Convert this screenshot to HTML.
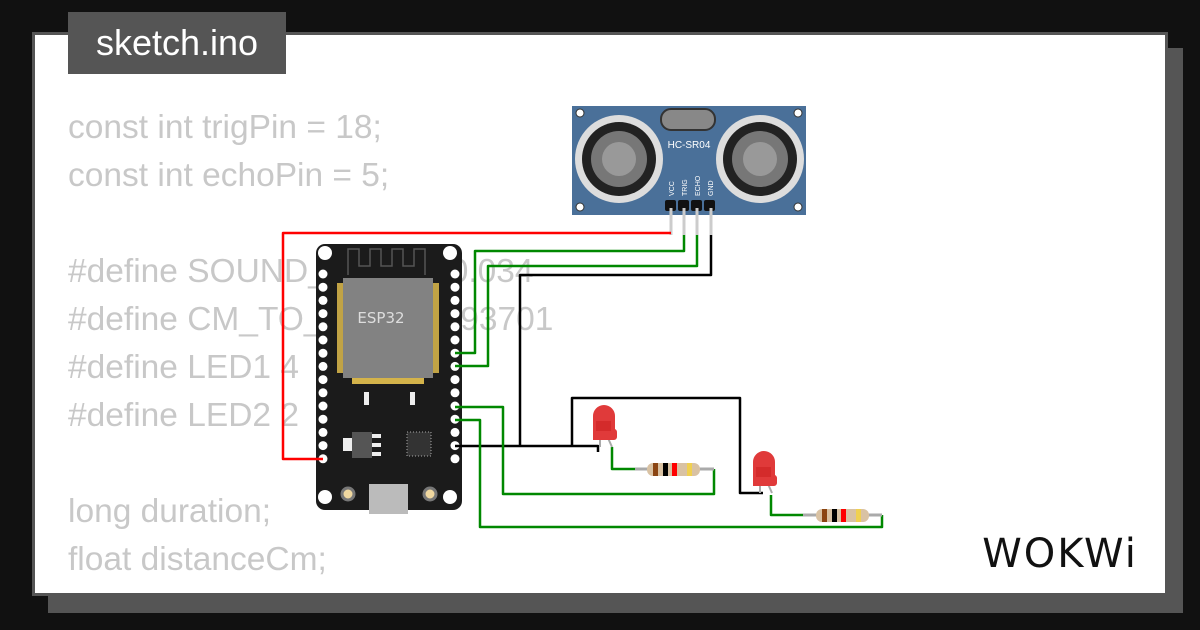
<!DOCTYPE html>
<html><head><meta charset="utf-8"><style>
html,body{margin:0;padding:0;background:#111;width:1200px;height:630px;overflow:hidden}
.shadow{position:absolute;left:48px;top:48px;width:1135px;height:565px;background:#555}
.card{position:absolute;left:32px;top:32px;width:1130px;height:558px;background:#fff;border:3px solid #555;overflow:hidden}
.code{position:absolute;left:33px;top:69px;font-family:"Liberation Sans",sans-serif;font-size:33.5px;line-height:48px;color:#c8c8c8;white-space:pre}
.label{position:absolute;left:68px;top:12px;width:218px;height:62px;background:#555;color:#fff;font-family:"Liberation Sans",sans-serif;font-size:36px;line-height:62px;text-align:center}
svg{position:absolute;left:0;top:0}
</style></head><body>
<div class="shadow"></div>
<div class="card"><div class="code">const int trigPin = 18;
const int echoPin = 5;

#define SOUND_SPEED 0.034
#define CM_TO_INCH 0.393701
#define LED1 4
#define LED2 2

long duration;
float distanceCm;
float distanceInch;</div></div>
<div class="label">sketch.ino</div>
<svg width="1200" height="630" viewBox="0 0 1200 630">
<rect x="572" y="106" width="234" height="109" fill="#4a7099"/>
<circle cx="580" cy="113" r="4" fill="#fff" stroke="#333"/><circle cx="798" cy="113" r="4" fill="#fff" stroke="#333"/>
<circle cx="580" cy="207" r="4" fill="#fff" stroke="#333"/><circle cx="798" cy="207" r="4" fill="#fff" stroke="#333"/>
<rect x="661" y="109" width="54" height="21" rx="10" fill="#888" stroke="#333" stroke-width="2"/>
<g><circle cx="619" cy="159" r="44" fill="#ddd"/><circle cx="619" cy="159" r="37" fill="#222"/><circle cx="619" cy="159" r="28" fill="#777"/><circle cx="619" cy="159" r="17" fill="#999"/></g>
<g><circle cx="760" cy="159" r="44" fill="#ddd"/><circle cx="760" cy="159" r="37" fill="#222"/><circle cx="760" cy="159" r="28" fill="#777"/><circle cx="760" cy="159" r="17" fill="#999"/></g>
<text x="689" y="148" font-family="Liberation Sans,sans-serif" font-size="10" fill="#fff" text-anchor="middle">HC-SR04</text>
<g font-family="Liberation Sans,sans-serif" font-size="7" fill="#fff">
<text transform="translate(674,196) rotate(-90)">VCC</text><text transform="translate(687,196) rotate(-90)">TRIG</text><text transform="translate(700,196) rotate(-90)">ECHO</text><text transform="translate(713,196) rotate(-90)">GND</text></g>
<g fill="#111"><rect x="665" y="200" width="11" height="11" rx="2"/><rect x="678" y="200" width="11" height="11" rx="2"/><rect x="691" y="200" width="11" height="11" rx="2"/><rect x="704" y="200" width="11" height="11" rx="2"/></g>
<g stroke="#ccc" stroke-width="3"><line x1="671" y1="208" x2="671" y2="235"/><line x1="684" y1="208" x2="684" y2="235"/><line x1="697" y1="208" x2="697" y2="235"/><line x1="711" y1="208" x2="711" y2="235"/></g>
<rect x="316" y="244" width="146" height="266" rx="9" fill="#1b1b1b"/>
<path d="M348 275V249H359V266H370V249H381V266H392V249H403V266H414V249H425V275" fill="none" stroke="#555" stroke-width="1.5"/>
<g fill="#d4b34a">
<rect x="337" y="283" width="6" height="90" opacity=".9"/><rect x="433" y="283" width="6" height="90" opacity=".9"/><rect x="352" y="378" width="72" height="6"/></g>
<rect x="343" y="278" width="90" height="100" fill="#828282"/>
<text x="381" y="323" font-family="DejaVu Sans,sans-serif" font-size="15" fill="#ddd" text-anchor="middle">ESP32</text>
<rect x="364" y="392" width="5" height="13" fill="#eee"/><rect x="410" y="392" width="5" height="13" fill="#eee"/>
<rect x="352" y="432" width="20" height="26" fill="#555"/><rect x="343" y="438" width="9" height="13" fill="#eee"/>
<rect x="372" y="434" width="9" height="4" fill="#eee"/><rect x="372" y="443" width="9" height="4" fill="#eee"/><rect x="372" y="452" width="9" height="4" fill="#eee"/>
<rect x="407" y="432" width="24" height="24" fill="#333" stroke="#aaa" stroke-dasharray="1 2"/>
<rect x="369" y="484" width="39" height="30" fill="#bbb"/>
<circle cx="348" cy="494" r="6" fill="#f0d8a0" stroke="#777" stroke-width="3"/><circle cx="430" cy="494" r="6" fill="#f0d8a0" stroke="#777" stroke-width="3"/>
<g fill="#fff"><circle cx="325" cy="253" r="7"/><circle cx="450" cy="253" r="7"/><circle cx="325" cy="497" r="7"/><circle cx="450" cy="497" r="7"/>
<circle cx="323" cy="274" r="4.5"/><circle cx="323" cy="287.2" r="4.5"/><circle cx="323" cy="300.4" r="4.5"/><circle cx="323" cy="313.6" r="4.5"/><circle cx="323" cy="326.8" r="4.5"/><circle cx="323" cy="340" r="4.5"/><circle cx="323" cy="353.2" r="4.5"/><circle cx="323" cy="366.4" r="4.5"/><circle cx="323" cy="379.6" r="4.5"/><circle cx="323" cy="392.8" r="4.5"/><circle cx="323" cy="406" r="4.5"/><circle cx="323" cy="419.2" r="4.5"/><circle cx="323" cy="432.4" r="4.5"/><circle cx="323" cy="445.6" r="4.5"/><circle cx="323" cy="458.8" r="4.5"/>
<circle cx="455" cy="274" r="4.5"/><circle cx="455" cy="287.2" r="4.5"/><circle cx="455" cy="300.4" r="4.5"/><circle cx="455" cy="313.6" r="4.5"/><circle cx="455" cy="326.8" r="4.5"/><circle cx="455" cy="340" r="4.5"/><circle cx="455" cy="353.2" r="4.5"/><circle cx="455" cy="366.4" r="4.5"/><circle cx="455" cy="379.6" r="4.5"/><circle cx="455" cy="392.8" r="4.5"/><circle cx="455" cy="406" r="4.5"/><circle cx="455" cy="419.2" r="4.5"/><circle cx="455" cy="432.4" r="4.5"/><circle cx="455" cy="445.6" r="4.5"/><circle cx="455" cy="458.8" r="4.5"/></g>
<g fill="none" stroke-width="2.5" stroke-linejoin="round">
<path d="M671 233H283V459H323" stroke="#f00"/>
<path d="M684 235V251H475V353H455" stroke="#080"/>
<path d="M697 235V266H488V366H455" stroke="#080"/>
<path d="M711 235V275H520V446" stroke="#000"/>
<path d="M455 446H598V452" stroke="#000"/>
<path d="M572 446V398H740V493H763" stroke="#000"/>
<path d="M612 447V469H635" stroke="#080"/>
<path d="M714 469V494H503V407H455" stroke="#080"/>
<path d="M771 495V515H803" stroke="#080"/>
<path d="M882 515V527H480V420H455" stroke="#080"/>
</g>
<g><line x1="635" y1="469" x2="714" y2="469" stroke="#aaa" stroke-width="3"/><rect x="647" y="463" width="53" height="13" rx="6" fill="#d9c2a3"/>
<rect x="653" y="463" width="5" height="13" fill="#8b4513"/><rect x="663" y="463" width="5" height="13" fill="#000"/><rect x="672" y="463" width="5" height="13" fill="#f00"/><rect x="687" y="463" width="5" height="13" fill="#f0d050"/></g>
<g><line x1="803" y1="515" x2="882" y2="515" stroke="#aaa" stroke-width="3"/><rect x="816" y="509" width="53" height="13" rx="6" fill="#d9c2a3"/>
<rect x="822" y="509" width="5" height="13" fill="#8b4513"/><rect x="832" y="509" width="5" height="13" fill="#000"/><rect x="841" y="509" width="5" height="13" fill="#f00"/><rect x="856" y="509" width="5" height="13" fill="#f0d050"/></g>
<g><line x1="600" y1="438" x2="600" y2="447" stroke="#aaa" stroke-width="2"/><line x1="608" y1="438" x2="612" y2="447" stroke="#aaa" stroke-width="2"/>
<path d="M593 440V416a11 11 0 0 1 22 0v13a4 4 0 0 1 2 4v4a3 3 0 0 1-3 3z" fill="#e03a3a"/><rect x="596" y="421" width="15" height="10" fill="#c22" opacity=".6"/></g>
<g><line x1="760" y1="484" x2="760" y2="493" stroke="#aaa" stroke-width="2"/><line x1="768" y1="484" x2="772" y2="493" stroke="#aaa" stroke-width="2"/>
<path d="M753 486V462a11 11 0 0 1 22 0v13a4 4 0 0 1 2 4v4a3 3 0 0 1-3 3z" fill="#e03a3a"/><rect x="756" y="467" width="15" height="10" fill="#c22" opacity=".6"/></g>
<text x="1060" y="567" font-family="DejaVu Sans,sans-serif" font-size="40" fill="#111" text-anchor="middle" letter-spacing="2">WOKWi</text>
</svg>
</body></html>
